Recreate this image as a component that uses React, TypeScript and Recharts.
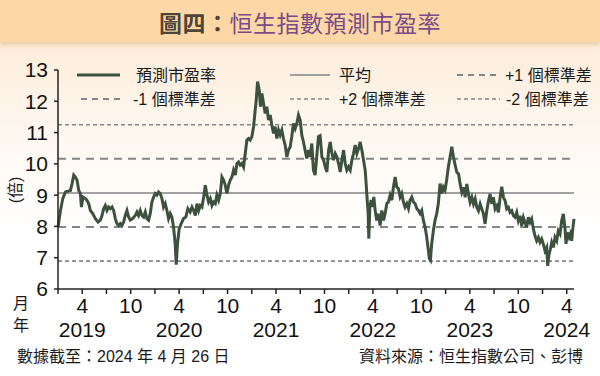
import { LineChart, Line, XAxis, YAxis, ReferenceLine } from "recharts"

// months since Jan 2019 (fractional)
const months = [
  0.0, 0.1, 0.3, 0.59, 0.92, 1.25, 1.54, 1.74, 1.95, 2.15, 2.36, 2.57, 2.77, 2.9, 3.1, 3.39, 3.6, 3.8, 4.01, 4.3,
  4.63, 4.96, 5.24, 5.45, 5.66, 5.86, 6.07, 6.27, 6.48, 6.69, 6.89, 7.1, 7.3, 7.51, 7.72, 7.92, 8.13, 8.33, 8.54, 8.75,
  8.95, 9.24, 9.57, 9.78, 9.98, 10.19, 10.39, 10.6, 10.81, 11.01, 11.22, 11.42, 11.63, 11.84, 12.04, 12.25, 12.45, 12.66, 12.87, 13.07,
  13.28, 13.49, 13.69, 13.9, 14.1, 14.31, 14.51, 14.64, 14.8, 15.01, 15.26, 15.54, 15.83, 16.08, 16.37, 16.59, 16.8, 17.01, 17.21, 17.42,
  17.62, 17.83, 18.04, 18.24, 18.45, 18.65, 18.86, 19.07, 19.27, 19.48, 19.68, 19.89, 20.1, 20.3, 20.51, 20.71, 20.92, 21.13, 21.33, 21.54,
  21.74, 21.95, 22.16, 22.36, 22.57, 22.77, 22.98, 23.19, 23.39, 23.6, 23.8, 24.01, 24.22, 24.42, 24.55, 24.71, 24.92, 25.08, 25.25, 25.45,
  25.66, 25.86, 26.07, 26.28, 26.48, 26.69, 26.89, 27.1, 27.31, 27.51, 27.72, 27.92, 28.13, 28.34, 28.54, 28.75, 28.95, 29.16, 29.37, 29.57,
  29.78, 29.99, 30.19, 30.4, 30.6, 30.81, 31.02, 31.22, 31.43, 31.63, 31.84, 32.04, 32.25, 32.46, 32.68, 32.89, 33.1, 33.3, 33.51, 33.71,
  33.92, 34.13, 34.33, 34.54, 34.74, 34.95, 35.16, 35.36, 35.57, 35.77, 35.98, 36.19, 36.39, 36.6, 36.8, 37.01, 37.22, 37.42, 37.63, 37.83,
  38.04, 38.16, 38.29, 38.41, 38.49, 38.62, 38.78, 38.95, 39.11, 39.28, 39.48, 39.69, 39.89, 40.1, 40.31, 40.51, 40.72, 40.92, 41.13, 41.34,
  41.54, 41.75, 41.95, 42.16, 42.37, 42.57, 42.78, 42.98, 43.19, 43.4, 43.6, 43.81, 44.01, 44.22, 44.43, 44.63, 44.84, 45.04, 45.25, 45.46,
  45.66, 45.87, 45.99, 46.12, 46.28, 46.49, 46.69, 46.9, 47.1, 47.31, 47.52, 47.72, 47.93, 48.13, 48.34, 48.55, 48.77, 48.98, 49.19, 49.39,
  49.6, 49.8, 50.01, 50.22, 50.42, 50.63, 50.83, 51.04, 51.25, 51.45, 51.66, 51.86, 52.07, 52.28, 52.48, 52.69, 52.89, 53.1, 53.31, 53.51,
  53.72, 53.92, 54.13, 54.34, 54.54, 54.75, 54.95, 55.16, 55.37, 55.57, 55.78, 55.98, 56.19, 56.4, 56.6, 56.81, 57.01, 57.22, 57.43, 57.63,
  57.84, 58.04, 58.25, 58.46, 58.66, 58.87, 59.07, 59.28, 59.49, 59.69, 59.9, 60.1, 60.31, 60.52, 60.64, 60.81, 60.97, 61.14, 61.34, 61.55,
  61.76, 61.96, 62.17, 62.37, 62.58, 62.79, 62.91, 63.07, 63.28, 63.44, 63.61, 63.77, 63.9,
]

// forward P/E (times)
const pe = [
  7.98, 8.14, 8.5, 8.89, 9.1, 9.13, 9.15, 9.37, 9.64, 9.58, 9.48, 9.15, 9.05, 8.62, 8.94, 8.89, 8.83, 8.73, 8.51, 8.41,
  8.25, 8.14, 8.2, 8.35, 8.57, 8.67, 8.51, 8.62, 8.57, 8.62, 8.51, 8.25, 8.09, 8.03, 8.09, 8.03, 8.14, 8.35, 8.51, 8.3,
  8.2, 8.25, 8.35, 8.46, 8.35, 8.51, 8.35, 8.3, 8.46, 8.25, 8.2, 8.41, 8.78, 8.94, 9.05, 9.0, 9.1, 9.05, 8.89, 8.62,
  8.73, 8.51, 8.25, 8.41, 8.3, 7.98, 7.45, 6.78, 7.45, 7.93, 8.09, 8.25, 8.3, 8.57, 8.46, 8.62, 8.51, 8.35, 8.73, 8.51,
  8.67, 8.62, 8.94, 9.32, 9.0, 8.78, 8.89, 8.67, 8.78, 8.73, 9.0, 8.84, 9.05, 9.58, 9.48, 9.32, 9.05, 9.32, 9.48, 9.58,
  9.8, 9.64, 10.01, 10.06, 9.96, 10.01, 9.9, 10.33, 10.76, 10.81, 10.76, 10.87, 11.19, 11.72, 12.04, 12.63, 12.36, 11.83, 12.25, 11.93,
  11.61, 11.83, 11.4, 11.56, 11.24, 10.97, 11.19, 10.81, 11.08, 10.92, 11.08, 10.81, 10.6, 10.22, 10.44, 10.54, 10.87, 11.29, 11.13, 11.29,
  11.56, 11.4, 10.92, 10.7, 10.44, 10.17, 10.44, 10.22, 10.65, 9.8, 9.64, 10.22, 10.87, 10.9, 10.22, 10.12, 9.9, 9.74, 10.44, 10.7,
  10.33, 10.12, 10.33, 10.22, 10.01, 9.74, 10.12, 10.44, 10.01, 9.8, 9.9, 9.8, 10.12, 10.33, 10.6, 10.33, 10.49, 10.7, 10.44, 10.12,
  9.8, 9.37, 8.84, 8.41, 7.61, 8.62, 8.84, 8.62, 8.94, 8.51, 8.19, 8.41, 8.03, 8.51, 8.19, 8.41, 8.73, 8.78, 9.0, 8.84,
  9.26, 9.58, 9.26, 9.21, 8.94, 9.05, 8.78, 8.62, 8.73, 8.57, 8.84, 8.94, 8.78, 8.73, 8.57, 8.51, 8.41, 8.51, 8.19, 7.98,
  7.66, 7.23, 6.97, 6.92, 7.45, 7.87, 8.19, 8.41, 8.73, 9.37, 9.05, 9.26, 9.16, 9.48, 9.9, 10.22, 10.55, 10.21, 9.95, 9.73,
  9.68, 9.36, 9.09, 9.25, 8.93, 9.36, 9.04, 8.77, 8.93, 8.72, 8.88, 8.61, 8.5, 8.72, 8.56, 8.4, 8.08, 8.5, 8.82, 9.04,
  8.72, 8.93, 8.56, 8.66, 8.45, 8.93, 9.27, 8.93, 8.82, 8.56, 8.61, 8.45, 8.5, 8.34, 8.29, 8.45, 8.18, 8.34, 8.02, 8.29,
  8.13, 7.97, 8.29, 8.13, 8.24, 7.92, 7.7, 7.54, 7.65, 7.49, 7.6, 7.44, 7.22, 7.33, 6.74, 7.11, 7.27, 7.49, 7.33, 7.65,
  7.54, 7.86, 7.76, 8.18, 8.4, 7.92, 7.44, 7.81, 7.65, 7.76, 7.54, 7.97, 8.24,
]

const yTicks = [6, 7, 8, 9, 10, 11, 12, 13]
const xTicks = [0, 3, 6, 9, 12, 15, 18, 21, 24, 27, 30, 33, 36, 39, 42, 45, 48, 51, 54, 57, 60, 63]
const monthLabels = ["", "4", "", "10", "", "4", "", "10", "", "4", "", "10", "", "4", "", "10", "", "4", "", "10", "", "4"]
const yearLabels = ["", "2019", "", "", "", "2020", "", "", "", "2021", "", "", "", "2022", "", "", "", "2023", "", "", "", "2024"]

// mean and standard-deviation bands
const meanPE = 9.07
const plus1 = 10.16
const plus2 = 11.25
const minus1 = 7.98
const minus2 = 6.89

const LINE = "#3c523f"
const GREY = "#858585"
const NUM_FONT = "'Liberation Sans', Arial, sans-serif"
const CJK_FONT = "'Liberation Sans', 'Noto Sans CJK TC', sans-serif"

const data = months.map((m, i) => ({ m, pe: pe[i] }))

function MonthTick(props: any) {
  const { x, y, payload } = props
  const i = xTicks.indexOf(payload.value)
  return (
    <g>
      <text x={x} y={y + 17} textAnchor="middle" fontSize={21} fontFamily={NUM_FONT} fill="#111">
        {monthLabels[i]}
      </text>
      <text x={x} y={y + 41} textAnchor="middle" fontSize={21} fontFamily={NUM_FONT} fill="#111">
        {yearLabels[i]}
      </text>
    </g>
  )
}

export default function App() {
  return (
    <div
      style={{
        position: "fixed",
        left: 0,
        top: 0,
        width: 600,
        height: 376,
        overflow: "hidden",
        background: "linear-gradient(#fdecd9 40px, #fef7ef 130px, #ffffff 230px)",
      }}
    >
      <LineChart
        width={600}
        height={376}
        data={data}
        margin={{ top: 70, right: 26, bottom: 27, left: 10 }}
        style={{ position: "absolute", left: 0, top: 0 }}
      >
        <XAxis
          dataKey="m"
          type="number"
          domain={[0, 63.9]}
          ticks={xTicks}
          interval={0}
          height={60}
          tickSize={5}
          tick={<MonthTick />}
          axisLine={{ stroke: "#222", strokeWidth: 1.5 }}
          tickLine={{ stroke: "#222", strokeWidth: 1.5 }}
        />
        <YAxis
          type="number"
          domain={[6, 13]}
          ticks={yTicks}
          interval={0}
          width={48}
          tickSize={4}
          tickMargin={6}
          tick={{ fontSize: 21, fontFamily: NUM_FONT, fill: "#111" }}
          axisLine={{ stroke: "#222", strokeWidth: 1.5 }}
          tickLine={{ stroke: "#222", strokeWidth: 1.5 }}
        />
        <ReferenceLine y={plus2} stroke={GREY} strokeWidth={1.6} strokeDasharray="4 3" />
        <ReferenceLine y={plus1} stroke={GREY} strokeWidth={2} strokeDasharray="8 6" />
        <ReferenceLine y={meanPE} stroke={GREY} strokeWidth={1.6} />
        <ReferenceLine y={minus1} stroke={GREY} strokeWidth={2} strokeDasharray="8 6" />
        <ReferenceLine y={minus2} stroke={GREY} strokeWidth={1.6} strokeDasharray="4 3" />
        <Line
          dataKey="pe"
          type="linear"
          stroke={LINE}
          strokeWidth={3}
          dot={false}
          isAnimationActive={false}
        />
      </LineChart>

      <div
        style={{
          position: "absolute",
          left: 0,
          top: 0,
          width: 600,
          height: 42,
          background: "#fdd8a6",
          boxShadow: "0 3px 4px rgba(200,150,90,0.35)",
          textAlign: "center",
          lineHeight: "44px",
          fontSize: 23,
          fontFamily: "'Noto Sans CJK TC', sans-serif",
          letterSpacing: 0.5,
        }}
      >
        <span style={{ color: "#4e4538", fontWeight: 700 }}>圖四：</span>
        <span style={{ color: "#7a4b87" }}>恒生指數預測市盈率</span>
      </div>

      <svg width={600} height={376} style={{ position: "absolute", left: 0, top: 0, pointerEvents: "none" }}>
        <g fontFamily={CJK_FONT} fontSize={16} fill="#1a1a1a">
          <line x1={77} x2={120} y1={75} y2={75} stroke={LINE} strokeWidth={3} />
          <text x={136} y={81}>預測市盈率</text>
          <line x1={290} x2={330} y1={75} y2={75} stroke={GREY} strokeWidth={1.6} />
          <text x={339} y={81}>平均</text>
          <line x1={457} x2={499} y1={75} y2={75} stroke={GREY} strokeWidth={2} strokeDasharray="6 5" />
          <text x={505} y={81}>+1 個標準差</text>
          <line x1={81} x2={123} y1={99} y2={99} stroke={GREY} strokeWidth={2} strokeDasharray="6 5" />
          <text x={133} y={105}>-1 個標準差</text>
          <line x1={290} x2={329} y1={99} y2={99} stroke={GREY} strokeWidth={1.6} strokeDasharray="4 3" />
          <text x={339} y={105}>+2 個標準差</text>
          <line x1={457} x2={500} y1={99} y2={99} stroke={GREY} strokeWidth={1.6} strokeDasharray="4 3" />
          <text x={506} y={105}>-2 個標準差</text>
        </g>
        <text
          x={21}
          y={190}
          transform="rotate(-90 21 190)"
          textAnchor="middle"
          fontSize={16}
          fontFamily={CJK_FONT}
          fill="#1a1a1a"
        >
          (倍)
        </text>
        <text x={13} y={309} fontSize={16} fontFamily={CJK_FONT} fill="#1a1a1a">月</text>
        <text x={13} y={331} fontSize={16} fontFamily={CJK_FONT} fill="#1a1a1a">年</text>
        <text x={17} y={362} fontSize={16} fontFamily={CJK_FONT} fill="#1a1a1a">數據截至：2024 年 4 月 26 日</text>
        <text x={583} y={362} textAnchor="end" fontSize={16} fontFamily={CJK_FONT} fill="#1a1a1a">
          資料來源：恒生指數公司、彭博
        </text>
      </svg>
    </div>
  )
}
